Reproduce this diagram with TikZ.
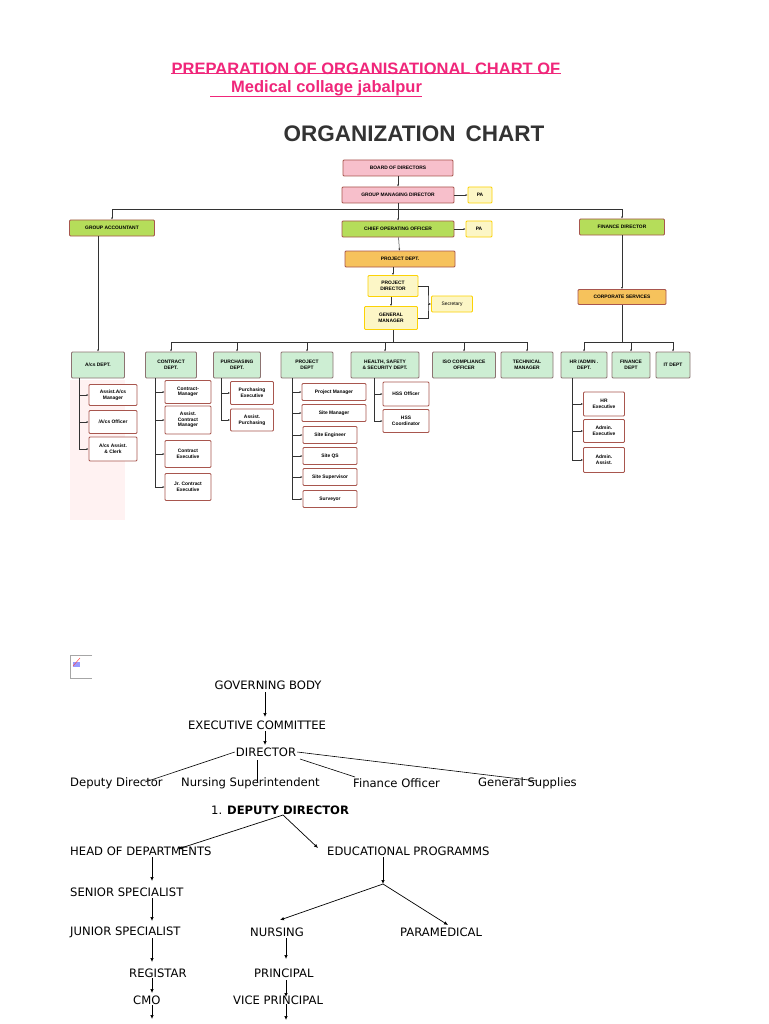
\documentclass[tikz,border=0pt]{standalone}
\usepackage{fontspec}
\setmainfont{DejaVu Sans}
\newfontfamily\arialf{Liberation Sans}
\usetikzlibrary{arrows.meta, positioning}
\definecolor{titlepink}{HTML}{F0267A}
\definecolor{boxedge}{HTML}{A8564E}
\definecolor{pinkfill}{HTML}{F7BFCB}
\definecolor{greenfill}{HTML}{B5DD5A}
\definecolor{deptfill}{HTML}{CDEED3}
\definecolor{orangefill}{HTML}{F6C25C}
\definecolor{yellowfill}{HTML}{FCF6C6}
\begin{document}
\begin{tikzpicture}[x=1pt, y=-1pt,
        chart/.style={rectangle, rounded corners=1pt, draw=boxedge, line width=0.8pt, align=center, inner sep=1pt, font=\arialf\fontsize{4.9}{5.6}\selectfont\bfseries},
        board/.style={chart, fill=pinkfill},
        head/.style={chart, fill=greenfill},
        dept/.style={chart, fill=deptfill, draw=gray!70!boxedge},
        unit/.style={chart, fill=orangefill},
        aide/.style={chart, fill=yellowfill, draw=yellow!70!orange},
        staff/.style={chart, fill=white},
        tline/.style={-{Latex[length=2pt,width=2pt]}, line width=0.5pt, gray!40!black},
        plain/.style={line width=0.5pt, gray!40!black},
        lbl/.style={inner sep=1pt, font=\fontsize{11.6}{13}\selectfont},
        line/.style={-{Latex[length=4pt,width=3.5pt]}, line width=0.7pt},
        fan/.style={line width=0.6pt}
    ]
    \useasboundingbox (0,0) rectangle (768,1024);
    \fill[white] (0,0) rectangle (768,1024);
    % title
    \node[text=titlepink, font=\arialf\fontsize{16.5}{18}\selectfont\bfseries, inner sep=0pt] (title) at (366,69) {PREPARATION OF ORGANISATIONAL CHART OF};
    \draw[titlepink, line width=0.9pt] ([yshift=1.5pt]title.south west) -- ([yshift=1.5pt]title.south east);
    \node[text=titlepink, font=\arialf\fontsize{16.5}{18}\selectfont\bfseries, inner sep=0pt, anchor=west] (subtitle) at (231,88) {Medical collage jabalpur};
    \draw[titlepink, line width=0.9pt] (210,96) -- (subtitle.east |- 0,96);
    % scanned chart
    \fill[pink!20] (70,380) rectangle (125,520);
    \node[font=\arialf\fontsize{22.5}{26}\selectfont\bfseries, text=black!80] (charthead) at (414,134) {ORGANIZATION\, CHART};
    \node[board, minimum width=110pt, minimum height=16pt] (bod) at (398,168) {BOARD OF DIRECTORS};
    \node[board, minimum width=112pt, minimum height=16pt] (gmd) at (398,195) {GROUP MANAGING DIRECTOR};
    \node[aide, minimum width=24pt, minimum height=16pt] (pa1) at (480,195) {PA};
    \node[head, minimum width=85pt, minimum height=16pt] (ga) at (112,228) {GROUP ACCOUNTANT};
    \node[head, minimum width=112pt, minimum height=16pt] (coo) at (398,229) {CHIEF OPERATING OFFICER};
    \node[aide, minimum width=26pt, minimum height=16pt] (pa2) at (479,229) {PA};
    \node[head, minimum width=85pt, minimum height=16pt] (fd) at (622,227) {FINANCE DIRECTOR};
    \node[unit, minimum width=110pt, minimum height=16pt] (pdept) at (400,259) {PROJECT DEPT.};
    \node[aide, minimum width=50pt, minimum height=21pt] (pdir) at (393,286) {PROJECT\\DIRECTOR};
    \node[aide, minimum width=53pt, minimum height=23pt] (gm) at (391,318) {GENERAL\\MANAGER};
    \node[aide, font=\arialf\fontsize{4.9}{5.6}\selectfont, minimum width=41pt, minimum height=16pt] (sec) at (452,304) {Secretary};
    \node[unit, minimum width=88pt, minimum height=15pt] (corp) at (622,297) {CORPORATE SERVICES};
    \coordinate (gbus) at (398,209);
    \coordinate (dbus) at (393,342);
    \coordinate (rbus) at (622,342);
    \coordinate (brk) at (428,304);
    \draw[tline] (bod) -- (gmd);
    \draw[tline] (gmd) -- (pa1);
    \draw[tline] (gmd) -- (coo);
    \draw[tline] (gbus) -| (ga.north);
    \draw[tline] (gbus) -| (fd.north);
    \draw[tline] (coo) -- (pa2);
    \draw[tline] (coo) -- (pdept);
    \draw[tline] (pdept.south -| pdir) -- (pdir);
    \draw[tline] (pdir.south -| gm) -- (gm);
    \draw[plain] (pdir.east) -| (brk) |- (gm.east);
    \draw[tline] (brk) -- (sec);
    \draw[tline] (fd) -- (corp);
    \draw[plain] (gm.south -| dbus) -- (dbus);
    \draw[plain] (corp) -- (rbus);
    % departments
    \node[dept, minimum width=53pt, minimum height=26pt] (acs) at (98,365) {A/cs DEPT.};
    \node[dept, minimum width=51pt, minimum height=26pt] (con) at (171,365) {CONTRACT\\DEPT.};
    \node[dept, minimum width=47pt, minimum height=26pt] (pur) at (237,365) {PURCHASING\\DEPT.};
    \node[dept, minimum width=52pt, minimum height=26pt] (prj) at (307,365) {PROJECT\\DEPT};
    \node[dept, minimum width=68pt, minimum height=26pt] (hss) at (385,365) {HEALTH, SAFETY\\\& SECURITY DEPT.};
    \node[dept, minimum width=63pt, minimum height=26pt] (iso) at (464,365) {ISO COMPLIANCE\\OFFICER};
    \node[dept, minimum width=52pt, minimum height=26pt] (tech) at (527,365) {TECHNICAL\\MANAGER};
    \node[dept, minimum width=46pt, minimum height=26pt] (hr) at (584,365) {HR /ADMIN .\\DEPT.};
    \node[dept, minimum width=38pt, minimum height=26pt] (fin) at (631,365) {FINANCE\\DEPT};
    \node[dept, minimum width=34pt, minimum height=26pt] (it) at (673,365) {IT DEPT};
    \draw[tline] (ga.south -| acs) -- (acs);
    \foreach \d in {con,pur,prj,hss,iso,tech}
        \draw[tline] (dbus) -| (\d.north);
    \foreach \d in {hr,fin,it}
        \draw[tline] (rbus) -| (\d.north);
    % staff boxes
    \node[staff, minimum width=48pt, minimum height=21pt] (acs1) at (113,395) {Assist.A/cs\\Manager};
    \node[staff, minimum width=48pt, minimum height=23pt] (acs2) at (113,422) {/A/cs Officer};
    \node[staff, minimum width=48pt, minimum height=24pt] (acs3) at (113,449) {A/cs Assist.\\\& Clerk};
    \node[staff, minimum width=46pt, minimum height=23pt] (con1) at (188,392) {Contract-\\Manager};
    \node[staff, minimum width=46pt, minimum height=28pt] (con2) at (188,420) {Assist.\\Contract\\Manager};
    \node[staff, minimum width=46pt, minimum height=27pt] (con3) at (188,454) {Contract\\Executive};
    \node[staff, minimum width=46pt, minimum height=27pt] (con4) at (188,487) {Jr. Contract\\Executive};
    \node[staff, minimum width=43pt, minimum height=23pt] (pur1) at (252,393) {Purchasing\\Executive};
    \node[staff, minimum width=43pt, minimum height=22pt] (pur2) at (252,420) {Assist.\\Purchasing};
    \node[staff, minimum width=64pt, minimum height=17pt] (prj1) at (334,392) {Project Manager};
    \node[staff, minimum width=64pt, minimum height=17pt] (prj2) at (334,413) {Site Manager};
    \node[staff, minimum width=54pt, minimum height=17pt] (prj3) at (330,435) {Site Engineer};
    \node[staff, minimum width=54pt, minimum height=17pt] (prj4) at (330,456) {Site QS};
    \node[staff, minimum width=54pt, minimum height=17pt] (prj5) at (330,477) {Site Supervisor};
    \node[staff, minimum width=54pt, minimum height=17pt] (prj6) at (330,499) {Surveyor};
    \node[staff, minimum width=46pt, minimum height=24pt] (hss1) at (406,394) {HSS Officer};
    \node[staff, minimum width=46pt, minimum height=23pt] (hss2) at (406,421) {HSS\\Coordinator};
    \node[staff, minimum width=41pt, minimum height=24pt] (hr1) at (604,404) {HR\\Executive};
    \node[staff, minimum width=41pt, minimum height=23pt] (hr2) at (604,431) {Admin.\\Executive};
    \node[staff, minimum width=41pt, minimum height=25pt] (hr3) at (604,460) {Admin.\\Assist.};
    \foreach \s in {acs1,acs2,acs3}
        \draw[tline] ([xshift=-19pt]acs.south) |- (\s.west);
    \foreach \s in {con1,con2,con3,con4}
        \draw[tline] ([xshift=-16pt]con.south) |- (\s.west);
    \foreach \s in {pur1,pur2}
        \draw[tline] ([xshift=-16pt]pur.south) |- (\s.west);
    \foreach \s in {prj1,prj2,prj3,prj4,prj5,prj6}
        \draw[tline] ([xshift=-15pt]prj.south) |- (\s.west);
    \foreach \s in {hss1,hss2}
        \draw[tline] ([xshift=-11pt]hss.south) |- (\s.west);
    \foreach \s in {hr1,hr2,hr3}
        \draw[tline] ([xshift=-12pt]hr.south) |- (\s.west);
    % broken image icon
    \draw[gray!70, line width=0.6pt] (92,655) -- (70,655) -- (70,678) -- (92,678);
    \fill[blue!40] (73,662) rectangle (80,667);
    \draw[red!70, line width=0.5pt] (73,666) -- (80,658);
    % text chart
    \node[lbl] (gb) at (268,685) {GOVERNING BODY};
    \node[lbl] (ec) at (257,725) {EXECUTIVE COMMITTEE};
    \node[lbl] (dir) at (266,752) {DIRECTOR};
    \node[lbl, anchor=west] (dd) at (69,783) {Deputy Director};
    \node[lbl, anchor=west] (ns) at (180,783) {Nursing Superintendent};
    \node[lbl, anchor=west] (fo) at (352,783) {Finance Officer};
    \node[lbl, anchor=west] (gs) at (477,783) {General Supplies};
    \node[lbl, anchor=west] (ddh) at (210,810) {1. \textbf{DEPUTY DIRECTOR}};
    \node[lbl, anchor=west] (hod) at (69,851) {HEAD OF DEPARTMENTS};
    \node[lbl, anchor=west] (edu) at (326,851) {EDUCATIONAL PROGRAMMS};
    \node[lbl, anchor=west] (ss) at (69,892) {SENIOR SPECIALIST};
    \node[lbl, anchor=west] (js) at (69,932) {JUNIOR SPECIALIST};
    \node[lbl, anchor=west] (nur) at (249,932) {NURSING};
    \node[lbl, anchor=west] (para) at (399,932) {PARAMEDICAL};
    \node[lbl, anchor=west] (reg) at (128,973) {REGISTAR};
    \node[lbl, anchor=west] (prin) at (253,973) {PRINCIPAL};
    \node[lbl, anchor=west] (cmo) at (132,1000) {CMO};
    \node[lbl, anchor=west] (vp) at (232,1000) {VICE PRINCIPAL};
    \begin{scope}
        \clip (0,0) rectangle (768,1024);
        \node[lbl, anchor=west] (hs) at (87,1029) {HOUSE SURGEON};
        \node[lbl, anchor=west] (tut) at (256,1029) {TUTOR};
    \end{scope}
    \coordinate (efan) at (383,884);
    \draw[line] (265,692) -- (265,717);
    \draw[line] (265,731) -- (265,745);
    \draw[fan] (dir.west) -- (145,782);
    \draw[fan] (257,760) -- (257,782);
    \draw[fan] (300,759) -- (355,777);
    \draw[fan] (dir.east) -- (537,781);
    \draw[line] (283,815) -- (178,849);
    \draw[line] (283,815) -- (318,848);
    \draw[line] (152,857) -- (152,881);
    \draw[line] (152,898) -- (152,921);
    \draw[line] (152,938) -- (152,962);
    \draw[line] (152,978) -- (152,993);
    \draw[line] (152,1005) -- (152,1019);
    \draw[line] (383,857) -- (efan);
    \draw[line] (efan) -- (280,920);
    \draw[line] (efan) -- (448,925);
    \draw[line] (286,938) -- (286,959);
    \draw[line] (286,980) -- (286,997);
    \draw[line] (286,1004) -- (286,1020);
\end{tikzpicture}
\end{document}
